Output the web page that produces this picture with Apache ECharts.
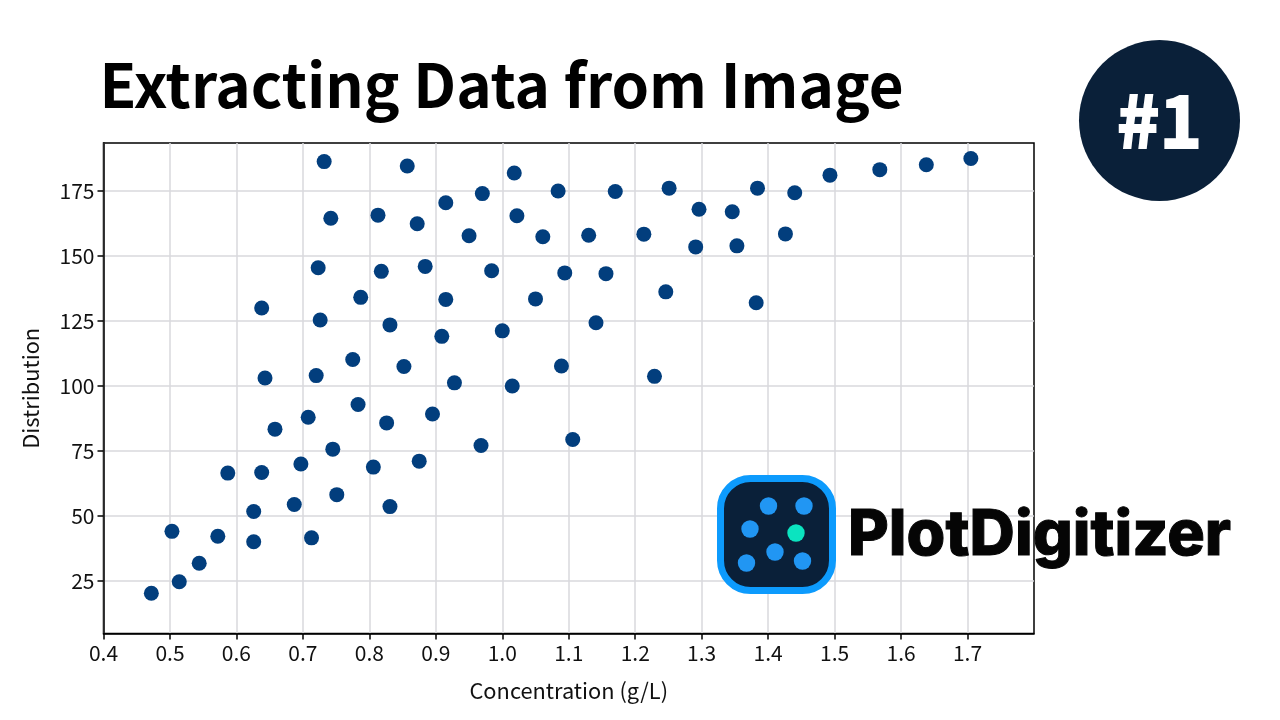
<!DOCTYPE html>
<html><head><meta charset="utf-8">
<style>html,body{margin:0;padding:0;background:#fff}#c{width:1280px;height:720px}</style>
<script src="https://cdn.jsdelivr.net/npm/echarts@6/dist/echarts.min.js"></script>
</head><body><div id="c"></div>
<script>
const concentration=[.472,.503,.514,.544,.572,.587,.626,.626,.638,.638,.643,.658,.687,.697,.708,.713,.72,.723,.726,.732,.742,.745,.751,.775,.783,.787,.806,.813,.818,.826,.831,.831,.852,.857,.872,.875,.884,.895,.915,.909,.915,.928,.95,.968,.97,.984,1.0,1.015,1.018,1.022,1.05,1.061,1.084,1.089,1.094,1.106,1.13,1.141,1.156,1.17,1.213,1.229,1.246,1.251,1.291,1.296,1.346,1.353,1.382,1.384,1.426,1.44,1.493,1.568,1.638,1.705];
const distribution=[20.3,44.1,24.7,31.8,42.2,66.5,51.7,40.1,66.7,130,103.1,83.4,54.4,70,88,41.6,104,145.5,125.4,186.3,164.5,75.7,58.2,110.2,92.9,134.1,68.8,165.7,144.1,85.8,123.5,53.6,107.5,184.6,162.4,71.1,146,89.2,133.3,119.1,170.5,101.2,157.8,77.1,174,144.3,121.2,100,181.9,165.5,133.5,157.4,175,107.7,143.5,79.4,158,124.3,143.2,174.8,158.4,103.7,136.2,176.1,153.5,168,167,153.9,132,176.1,158.5,174.3,181.1,183.2,185.1,187.5];
const xTicks=[.4,.5,.6,.7,.8,.9,1.0,1.1,1.2,1.3,1.4,1.5,1.6,1.7];
const yTicks=[25,50,75,100,125,150,175];
const titleText="Extracting Data from Image";
const badgeText="#1";
const logoText="PlotDigitizer";
const logoDots=[[768.5,506],[804,506],[750,529],[775,552],[802.5,561],[746.5,563]];
const logoAccent=[796,533];

const cjk='"Noto Sans CJK JP","Noto Sans",sans-serif';
const chart=echarts.init(document.getElementById('c'),null,{renderer:'canvas'});
const axisCommon={
  axisLine:{show:true,onZero:false,lineStyle:{color:'#000',width:1.5}},
  axisTick:{show:true,length:6,lineStyle:{color:'#000',width:1.5}},
  axisLabel:{color:'#111',fontFamily:cjk,fontSize:21,margin:9},
  splitLine:{show:true,lineStyle:{color:'#d8d8dc',width:1.5}},
  nameTextStyle:{color:'#111',fontFamily:cjk,fontSize:21.8},
  nameLocation:'middle'
};
chart.setOption({
  animation:false,
  backgroundColor:'#fff',
  grid:{left:103.5,right:246,top:143,bottom:86.5,show:true,borderColor:'#000',borderWidth:1.5,backgroundColor:'transparent'},
  xAxis:Object.assign({},axisCommon,{type:'value',name:'Concentration (g/L)',nameGap:46,min:.4,max:1.8,
    axisTick:{show:true,length:6,lineStyle:{color:'#000',width:1.5},customValues:xTicks},
    axisLabel:Object.assign({},axisCommon.axisLabel,{customValues:xTicks,formatter:v=>v.toFixed(1)})}),
  yAxis:Object.assign({},axisCommon,{type:'value',name:'Distribution',nameGap:62,min:4.8,max:193.46,
    axisTick:{show:true,length:6,lineStyle:{color:'#000',width:1.5},customValues:yTicks},
    axisLabel:Object.assign({},axisCommon.axisLabel,{customValues:yTicks})}),
  series:[{type:'scatter',symbolSize:15,itemStyle:{color:'#023e7d',opacity:1},
    data:concentration.map((x,i)=>[x,distribution[i]])}],
  graphic:[
    {type:'text',x:99.5,y:85,z:10,style:{text:titleText,fill:'#000',font:'bold 60.1px '+cjk,textAlign:'left',textVerticalAlign:'middle'}},
    {type:'circle',shape:{cx:1159.5,cy:120.5,r:80.5},z:10,style:{fill:'#0a2039'}},
    {type:'text',x:1159.5,y:121,z:11,style:{text:badgeText,fill:'#fff',stroke:'#fff',lineWidth:2,font:'bold 72px '+cjk,textAlign:'center',textVerticalAlign:'middle'}},
    {type:'rect',shape:{x:720.5,y:478.5,width:112,height:112,r:30},z:10,style:{fill:'#0a2039',stroke:'#0d9bfd',lineWidth:7}},
    ...logoDots.map(d=>({type:'circle',shape:{cx:d[0],cy:d[1],r:8.7},z:11,style:{fill:'#2196f3'}})),
    {type:'circle',shape:{cx:logoAccent[0],cy:logoAccent[1],r:8.7},z:11,style:{fill:'#0be4c0'}},
    {type:'text',x:848,y:536,z:11,style:{text:logoText,fill:'#050505',stroke:'#050505',lineWidth:1,font:'800 62.7px Inter,"Noto Sans",sans-serif',textAlign:'left',textVerticalAlign:'middle'}}
  ]
});
</script></body></html>
